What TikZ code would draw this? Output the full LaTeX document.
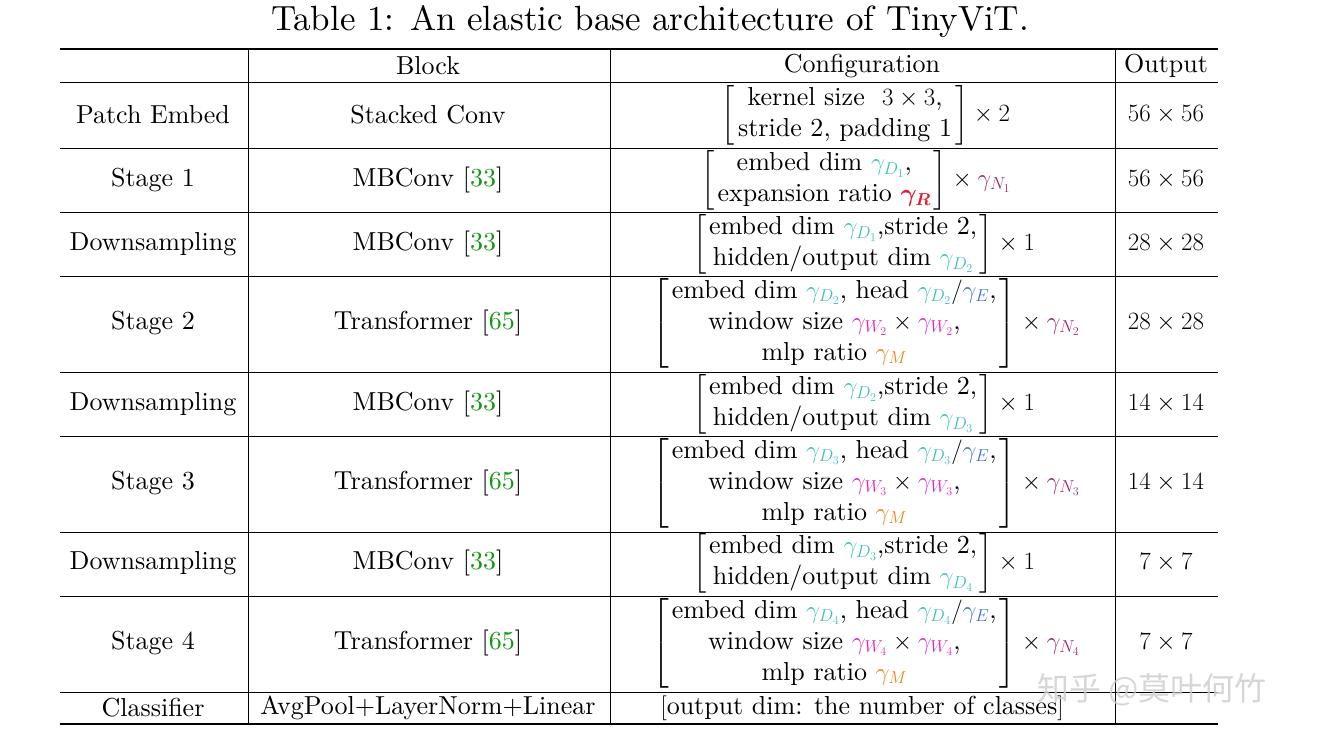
\documentclass[tikz,border=0pt]{standalone}
\usepackage{amsmath}
\usepackage{fontspec}
\setmainfont{lmroman10-regular.otf}[BoldFont=lmroman10-bold.otf,ItalicFont=lmroman10-italic.otf]
\newfontfamily\cjk{Noto Sans CJK SC}
\definecolor{cD}{RGB}{60,190,190}
\definecolor{cR}{RGB}{220,30,50}
\definecolor{cN}{RGB}{160,40,110}
\definecolor{cE}{RGB}{60,110,210}
\definecolor{cW}{RGB}{220,40,200}
\definecolor{cM}{RGB}{240,130,20}
\definecolor{cit}{RGB}{20,150,20}
\newcommand{\gD}[1]{\textcolor{cD}{\gamma_{D_{#1}}}}
\newcommand{\gW}[1]{\textcolor{cW}{\gamma_{W_{#1}}}}
\newcommand{\gN}[1]{\textcolor{cN}{\gamma_{N_{#1}}}}
\newcommand{\gE}{\textcolor{cE}{\gamma_{E}}}
\newcommand{\gM}{\textcolor{cM}{\gamma_{M}}}
\newcommand{\gR}{\textcolor{cR}{\boldsymbol{\gamma_{R}}}}
\newcommand{\ct}[1]{[\textcolor{cit}{#1}]}
\newcommand{\cfg}[2]{$\left[\begin{tabular}{@{\hspace{3pt}}c@{\hspace{3pt}}}#1\end{tabular}\right]\times #2$}
\begin{document}
\begin{tikzpicture}[x=1pt,y=-1pt,
  txt/.style={font=\fontsize{26}{31}\selectfont, inner sep=0pt, align=center},
  rule/.style={line width=0.9pt}, thick rule/.style={line width=1.8pt}]
\useasboundingbox (0,0) rectangle (1324,744);
\node[font=\fontsize{35}{38}\selectfont] (title) at (650,22) {Table 1: An elastic base architecture of TinyViT.};
\draw[thick rule] (60,49) -- (1218,49);
\draw[rule] (60,82) -- (1218,82);
\foreach \y in {148,212,276,372,436,532,596,692} \draw[rule] (60,\y) -- (1218,\y);
\draw[thick rule] (60,724) -- (1218,724);
\foreach \x in {248,610,1115} \draw[rule] (\x,49) -- (\x,724);
\node[txt] (h1) at (428,66) {Block};
\node[txt] (h2) at (862,66) {Configuration};
\node[txt] (h3) at (1166,66) {Output};
\foreach \y/\t [count=\i] in {115/Patch Embed,180/Stage 1,244/Downsampling,323/Stage 2,404/Downsampling,483/Stage 3,563/Downsampling,643/Stage 4,708/Classifier}
  \node[txt] (a\i) at (153,\y) {\t};
\node[txt] (b1) at (428,115) {Stacked Conv};
\node[txt] (b2) at (428,180) {MBConv \ct{33}};
\node[txt] (b3) at (428,244) {MBConv \ct{33}};
\node[txt] (b4) at (428,323) {Transformer \ct{65}};
\node[txt] (b5) at (428,404) {MBConv \ct{33}};
\node[txt] (b6) at (428,483) {Transformer \ct{65}};
\node[txt] (b7) at (428,563) {MBConv \ct{33}};
\node[txt] (b8) at (428,643) {Transformer \ct{65}};
\node[txt] (b9) at (428,708) {AvgPool+LayerNorm+Linear};
\foreach \y/\t [count=\i] in {115/56\times 56,180/56\times 56,244/28\times 28,323/28\times 28,404/14\times 14,483/14\times 14,563/7\times 7,643/7\times 7}
  \node[txt] (c\i) at (1166,\y) {$\t$};
\node[txt] (d1) at (866,115) {\cfg{kernel size\ \ $3\times3$,\\ stride 2, padding 1}{2}};
\node[txt] (d2) at (856,180) {\cfg{embed dim $\gD1$,\\ expansion ratio $\gR$}{\gN1}};
\node[txt] (d3) at (864,244) {\cfg{embed dim $\gD1$,stride 2,\\ hidden/output dim $\gD2$}{1}};
\node[txt] (d4) at (866,323) {\cfg{embed dim $\gD2$,\ head $\gD2/\gE$,\\ window size $\gW2\times\gW2$,\\ mlp ratio $\gM$}{\gN2}};
\node[txt] (d5) at (864,404) {\cfg{embed dim $\gD2$,stride 2,\\ hidden/output dim $\gD3$}{1}};
\node[txt] (d6) at (866,483) {\cfg{embed dim $\gD3$,\ head $\gD3/\gE$,\\ window size $\gW3\times\gW3$,\\ mlp ratio $\gM$}{\gN3}};
\node[txt] (d7) at (864,563) {\cfg{embed dim $\gD3$,stride 2,\\ hidden/output dim $\gD4$}{1}};
\node[txt] (d8) at (866,643) {\cfg{embed dim $\gD4$,\ head $\gD4/\gE$,\\ window size $\gW4\times\gW4$,\\ mlp ratio $\gM$}{\gN4}};
\node[txt] (d9) at (862,708) {$\left[\text{output dim: the number of classes}\right]$};
\node[font=\cjk\fontsize{32}{36}\selectfont, text=gray!40, opacity=0.8] (wm) at (1152,690) {知乎 @莫叶何竹};
\end{tikzpicture}
\end{document}
